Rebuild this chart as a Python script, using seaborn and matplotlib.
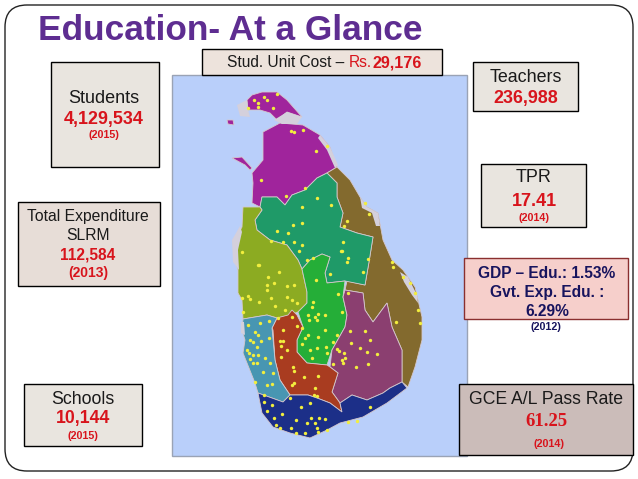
"""Education at a glance slide: district map with school dots and key figures."""
import matplotlib
matplotlib.use('Agg')
import matplotlib.pyplot as plt
import pandas as pd
import seaborn as sns
from matplotlib.patches import FancyBboxPatch, Rectangle

# province outlines
jaffna = [(252,95),(262,92),(277,92),(287,100),(302,117),(287,112),(277,120),(270,113),(260,110),(248,110),(247,100)]
mannar = [(232,158),(242,157),(252,168),(250,170),(245,165)]
islet = [(227,120),(233,120),(234,125),(228,124)]
northern = [(263,132),(280,123),(303,125),(320,135),(330,147),(337,167),(327,173),(317,178),(305,190),(292,195),(285,205),(277,197),(262,197),(260,207),(252,203),(253,183),(252,173),(263,160),(263,145)]
eastern = [(327,173),(337,167),(350,180),(360,197),(367,207),(378,213),(383,240),(392,260),(403,270),(415,287),(422,317),(422,340),(415,367),(408,387),(402,382),(402,350),(392,327),(387,303),(373,322),(365,310),(363,293),(345,290),(347,281),(365,285),(369,262),(373,237),(357,233),(340,227),(343,213),(337,197),(337,183)]
north_central = [(262,197),(277,197),(285,205),(292,195),(305,190),(317,178),(327,173),(337,183),(337,197),(343,213),(340,227),(357,233),(373,237),(369,262),(365,285),(345,281),(327,283),(325,273),(330,257),(322,254),(310,260),(302,269),(298,260),(287,245),(270,240),(257,230),(255,220),(262,210),(260,207)]
north_western = [(243,207),(260,207),(262,210),(255,220),(257,230),(270,240),(287,245),(298,260),(302,269),(307,292),(307,303),(298,312),(290,315),(277,318),(267,315),(243,319),(242,300),(238,293),(238,270),(235,260),(233,243),(242,227)]
central = [(330,257),(322,254),(310,260),(302,269),(307,292),(307,303),(298,312),(303,327),(297,340),(297,352),(307,363),(327,365),(332,350),(345,327),(347,315),(343,297),(345,281),(327,283),(325,273)]
uva = [(345,290),(363,293),(365,310),(373,322),(387,303),(392,327),(402,350),(402,382),(390,388),(383,393),(367,400),(352,395),(340,403),(332,392),(338,373),(330,367),(332,350),(345,327),(347,315),(343,297)]
sabaragamuwa = [(292,310),(297,315),(303,327),(297,340),(297,352),(307,363),(327,365),(330,367),(338,373),(332,392),(340,403),(342,412),(330,403),(317,398),(308,395),(290,395),(280,380),(275,360),(273,330),(272,328),(277,318),(288,315)]
western = [(243,319),(267,315),(277,318),(272,328),(275,360),(280,380),(290,395),(283,402),(258,393),(255,383),(243,353),(245,340),(242,330)]
southern = [(258,393),(283,402),(290,395),(308,395),(317,398),(330,403),(342,412),(340,403),(352,395),(367,400),(383,393),(390,388),(402,382),(407,388),(387,403),(363,417),(340,423),(327,430),(310,438),(290,433),(273,427),(262,413)]

# pale lagoons and sand along the coast
sand_kalpitiya = [(240,226),(232,240),(233,262),(239,270),(238,250),(242,232)]
sand_jaffna = [(237,105),(247,100),(248,110),(250,117),(240,116)]
sand_lagoon = [(274,120),(287,112),(302,117),(297,124),(282,124)]
sand_north = [(320,135),(330,147),(338,165),(335,168),(327,150),(318,138)]
sand_trinco = [(360,197),(367,207),(378,213),(380,226),(376,226),(372,213),(362,208)]
sand_east = [(400,272),(408,277),(417,295),(418,303),(412,295),(404,282)]
sand_west = [(241,322),(244,322),(245,335),(241,333)]

# school locations
school_x = [264,267,254,258,277,248,258,273,291,294,303,316,327,261,305,286,317,302,331,347,344,293,302,277,288,271,283,294,302,299,343,341,342,348,347,368,307,313,258,365,369,392,393,242,
            259,279,268,274,267,267,287,294,242,248,250,259,271,275,287,292,297,243,285,
            316,338,313,312,308,309,315,318,325,317,325,342,302,308,305,318,337,333,302,310,317,326,312,327,330,363,
            292,278,297,283,280,283,281,287,281,293,294,304,318,294,292,315,314,317,
            348,350,365,370,351,360,367,377,337,339,344,345,342,343,333,356,368,
            396,418,420,403,410,415,
            248,260,269,255,258,250,261,269,253,257,247,249,253,258,265,250,253,270,257,263,273,255,267,272,264,
            272,264,267,282,274,301,310,290,311,319,325,296,315,307,317,318,276,280,291,296,305,327,348,370,357]
school_y = [97,100,100,103,94,108,107,108,131,132,130,151,146,180,188,196,198,207,205,221,226,225,223,231,233,241,242,242,245,251,242,251,251,258,262,259,260,258,265,203,214,262,267,252,
            265,272,277,283,285,290,286,285,298,296,299,302,298,306,297,300,303,312,310,
            280,294,302,307,315,320,317,314,315,320,330,312,328,335,338,337,335,342,344,350,348,347,358,353,274,272,
            317,318,326,330,341,341,346,350,357,367,371,377,376,383,385,388,395,396,
            293,331,331,340,343,348,352,354,349,351,353,358,360,363,364,367,364,
            322,310,323,277,283,293,
            325,323,321,332,335,340,341,338,342,347,350,353,355,355,358,359,363,363,363,372,373,382,385,384,395,
            405,402,411,414,418,407,403,398,418,418,419,420,423,423,428,432,425,428,428,433,433,430,422,407,421]

# figures shown in the boxes
title_text = 'Education- At a Glance'
students_value, students_year = '4,129,534', '(2015)'
expenditure_value, expenditure_year = '112,584', '(2013)'
schools_value, schools_year = '10,144', '(2015)'
teachers_value = '236,988'
tpr_value, tpr_year = '17.41', '(2014)'
gce_value, gce_year = '61.25', '(2014)'
unit_cost_value = '29,176'
gdp_lines = ['GDP \u2013 Edu.: 1.53%', 'Gvt. Exp. Edu. :', '6.29%']
gdp_year = '(2012)'

RED = '#d8141c'
DARK = '#1a1a1a'
NAVY = '#17145e'
SANS = 'Liberation Sans'

sns.set_theme(style='white')
plt.rcParams['font.family'] = [SANS, 'DejaVu Sans']

fig = plt.figure(figsize=(6.38, 4.79), dpi=100)
ax = fig.add_axes([0, 0, 1, 1])


def box(x0, y0, x1, y1, fill, edge='black', lw=1.0):
    ax.add_patch(Rectangle((x0, y0), x1 - x0, y1 - y0, facecolor=fill, edgecolor=edge, linewidth=lw, zorder=5))


def label(x, y, text, size, color=DARK, bold=False, **kw):
    ax.text(x, y, text, fontsize=size, color=color, ha='center', va='center',
            fontweight='bold' if bold else 'normal', zorder=6, **kw)


# slide frame
ax.add_patch(FancyBboxPatch((5, 5), 628, 466, boxstyle='round,pad=0,rounding_size=22',
                            facecolor='white', edgecolor='#222222', linewidth=1.0, zorder=1))

# map panel
box(172, 75, 467, 456, '#b9cffa', edge='#9aa3b5', lw=1.0)

regions = [(jaffna, '#a0249c'), (mannar, '#a0249c'), (islet, '#a0249c'), (northern, '#a0249c'),
           (eastern, '#836a2e'), (north_central, '#1f9a68'), (north_western, '#8cab22'),
           (central, '#25ae38'), (uva, '#8b3f70'), (sabaragamuwa, '#a93c20'),
           (western, '#4896b2'), (southern, '#1c2f88')]
for outline, colour in regions:
    xs, ys = zip(*outline)
    ax.fill(xs, ys, facecolor=colour, edgecolor='#d5c8cc', linewidth=0.6, zorder=6)

for outline in [sand_kalpitiya, sand_jaffna, sand_lagoon, sand_north, sand_trinco, sand_east, sand_west]:
    xs, ys = zip(*outline)
    ax.fill(xs, ys, facecolor='#d4d0dc', edgecolor='none', zorder=6.5)

schools = pd.DataFrame({'x': school_x, 'y': school_y})
sns.scatterplot(data=schools, x='x', y='y', ax=ax, color='#f2ee3e', s=6, linewidth=0, zorder=7, legend=False)
ax.set_xlim(0, 638)
ax.set_ylim(479, 0)
ax.axis('off')

# title
ax.text(38, 30, title_text, fontsize=25.4, fontweight='bold', color='#5e2d91', ha='left', va='center', zorder=6)

# unit cost box
box(202, 49, 442, 75, '#ede3dc')
label(285.5, 62.5, 'Stud. Unit Cost \u2013', 11.2)
label(360, 62.5, 'Rs.', 11.2, RED)
label(397, 62.5, unit_cost_value, 11.6, RED, True)

# left column
box(51, 62, 159, 167, '#e9e5df')
label(104, 98, 'Students', 13)
label(104, 119, students_value, 12.9, RED, True)
label(104, 135, students_year, 7.7, RED, True)

box(18, 202, 160, 286, '#e7ddd7')
label(88, 216, 'Total Expenditure', 11.3)
label(88, 235, 'SLRM', 11.3)
label(88, 255, expenditure_value, 11.2, RED, True)
label(88, 273, expenditure_year, 10, RED, True)

box(24, 384, 142, 446, '#e9e5df')
label(83, 399, 'Schools', 12.8)
label(83, 419, schools_value, 12.7, RED, True)
label(83, 436, schools_year, 7.7, RED, True)

# right column
box(473, 62, 578, 111, '#e9e5df')
label(526, 77, 'Teachers', 12.9)
label(526, 98, teachers_value, 12.9, RED, True)

box(481, 164, 586, 227, '#e9e5df')
label(534, 178, 'TPR', 13)
label(534, 201, tpr_value, 13, RED, True)
label(534, 218, tpr_year, 7.7, RED, True)

box(464, 258, 628, 319, '#f6cfcb', edge='#8a2f2f')
label(547, 273, gdp_lines[0], 11.2, NAVY, True)
label(547, 292, gdp_lines[1], 11.2, NAVY, True)
label(547, 311, gdp_lines[2], 11.2, NAVY, True)
label(546, 327, gdp_year, 7.7, NAVY, True)

box(459, 384, 633, 455, '#cbbcb9')
label(546, 399, 'GCE A/L Pass Rate', 12.7)
ax.text(546, 421, gce_value, fontsize=13.5, color=RED, fontweight='bold', family='Liberation Serif',
        ha='center', va='center', zorder=6)
label(549, 444, gce_year, 7.7, RED, True)

fig.savefig('out.png', dpi=100)
